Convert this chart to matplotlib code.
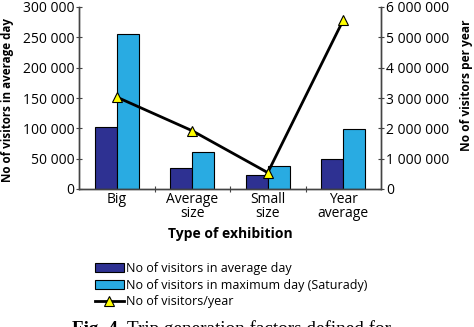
import numpy as np
import matplotlib
matplotlib.use('Agg')
import matplotlib.pyplot as plt
from matplotlib.ticker import FuncFormatter, FixedLocator

plt.rcParams['font.family'] = ['Open Sans', 'DejaVu Sans']

# data
categories = ['Big', 'Average\nsize', 'Small\nsize', 'Year\naverage']
avg_day = [103000, 34000, 23000, 50000]
max_day = [256000, 61000, 38000, 99000]
per_year = [3030000, 1920000, 540000, 5570000]

DARK = '#2e3192'
LIGHT = '#29abe2'

def spaced(v, pos):
  return '{:,.0f}'.format(v).replace(',', ' ')

fig = plt.figure(figsize=(4.74, 3.27), dpi=100)
ax = fig.add_axes([79/474, 1-189/327, 302/474, 182/327])
ax2 = ax.twinx()

x = np.arange(len(categories))
w = 0.29
b1 = ax.bar(x - w/2, avg_day, w, color=DARK, edgecolor='black', linewidth=0.8,
            label='No of visitors in average day')
b2 = ax.bar(x + w/2, max_day, w, color=LIGHT, edgecolor='black', linewidth=0.8,
            label='No of visitors in maximum day (Saturady)')
ln, = ax2.plot(x, per_year, color='black', lw=2, marker='^', ms=7,
               mfc='#ffff00', mec='black', mew=0.8, label='No of visitors/year')

ax.set_xlim(-0.5, len(categories) - 0.5)
ax.set_ylim(0, 300000)
ax2.set_ylim(0, 6000000)
ax.set_yticks(np.arange(0, 300001, 50000))
ax2.set_yticks(np.arange(0, 6000001, 1000000))
ax.yaxis.set_major_formatter(FuncFormatter(spaced))
ax2.yaxis.set_major_formatter(FuncFormatter(spaced))

ax.set_xticks(x)
ax.set_xticklabels(categories, fontsize=10, linespacing=0.95)
ax.tick_params(axis='x', which='major', length=0, pad=2)
ax.xaxis.set_minor_locator(FixedLocator([0.5, 1.5, 2.5]))
ax.tick_params(axis='x', which='minor', length=5, direction='inout', width=0.8, color='#444444')
ax.tick_params(axis='y', length=5, direction='inout', width=0.8, labelsize=10, pad=1, color='#444444')
ax2.tick_params(axis='y', length=5, direction='inout', width=0.8, labelsize=10, pad=1, color='#444444')

for a in (ax, ax2):
  a.spines['top'].set_visible(False)
  for s in ('left', 'right', 'bottom'):
    a.spines[s].set_color('#444444')
    a.spines[s].set_linewidth(1.0)

ax.set_ylabel('No of visitors in average day', fontsize=8.4, fontweight='bold')
ax.yaxis.set_label_coords(-0.215, 0.49)
ax2.set_ylabel('No of visitors per year', fontsize=8.6, fontweight='bold', rotation=90)
ax2.yaxis.set_label_coords(1.262, 0.57)
ax.set_xlabel('Type of exhibition', fontsize=10, fontweight='bold')
ax.xaxis.set_label_coords((230-79)/302, -(227-189)/182)

leg = fig.legend([b1, b2, ln], [b1.get_label(), b2.get_label(), ln.get_label()],
                 loc='upper left', bbox_to_anchor=(95/474, 1-262/327), frameon=False,
                 fontsize=9, handlelength=2.3, handleheight=0.65, handletextpad=0.15,
                 labelspacing=0.3, borderaxespad=0, borderpad=0)

# caption, cut by the lower edge as in the original
t1 = fig.text(72/474, 1-334/327, 'Fig. 4.', ha='left', va='baseline',
              fontsize=13.8, fontweight='bold', family='Liberation Serif')
fig.canvas.draw()
bb = t1.get_window_extent()
fig.text((bb.x1 + 4)/474, 1-334/327, 'Trip generation factors defined for', ha='left',
         va='baseline', fontsize=13.8, family='Liberation Serif')

fig.savefig('out.png', dpi=100)
